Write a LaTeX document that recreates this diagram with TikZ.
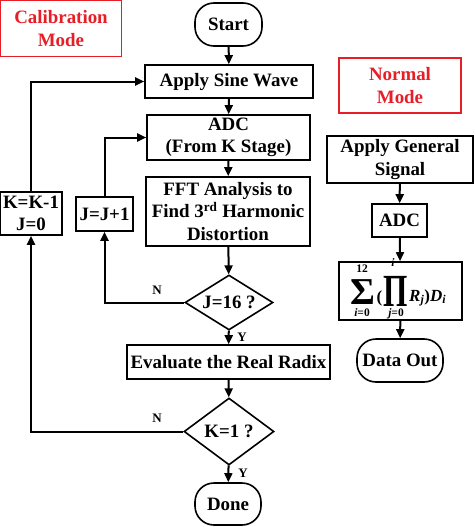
\documentclass[tikz,border=0pt]{standalone}
\usepackage{graphicx}
\usepackage{fontspec}
\setmainfont{Liberation Serif}
\usetikzlibrary{shapes.geometric,arrows.meta}
\definecolor{modered}{RGB}{232,30,38}
\begin{document}
\begin{tikzpicture}[x=1pt,y=-1pt,
  txt/.style={font=\fontsize{18.9}{22.5}\selectfont\bfseries, align=center, inner sep=0pt},
  box/.style={txt, draw, line width=1.6pt, rectangle},
  term/.style={box, rounded corners=19pt},
  dec/.style={txt, draw, line width=1.6pt, diamond, aspect=1.6},
  modebox/.style={txt, draw=modered, text=modered, line width=1.2pt},
  conn/.style={line width=2pt, -{Triangle[length=9pt,width=8pt]}},
  lbl/.style={font=\fontsize{13}{15}\selectfont\bfseries, inner sep=0pt},
  limtxt/.style={font=\fontsize{11.5}{12}\selectfont\bfseries, inner sep=0pt},
  mtxt/.style={font=\fontsize{17}{20}\selectfont\bfseries, inner sep=0pt}]
\useasboundingbox (0,0) rectangle (474,527);
% Calibration side
\node[modebox, minimum width=121pt, minimum height=56pt] (calib) at (61,28.5) {Calibration\\Mode};
\node[term, minimum width=67pt, minimum height=43pt] (start) at (228.5,24.5) {Start};
\node[box, minimum width=168pt, minimum height=33pt] (sine) at (229,81.5) {Apply Sine Wave};
\node[box, minimum width=163pt, minimum height=45pt] (adc1) at (228.5,137.5) {ADC\\(From K Stage)};
\node[box, minimum width=164pt, minimum height=69pt] (fft) at (228,211.5) {FFT Analysis to\\Find 3\textsuperscript{rd} Harmonic\\Distortion};
\node[dec, minimum width=88pt, minimum height=55pt] (j16) at (229,302.5) {J=16 ?};
\node[box, minimum width=203pt, minimum height=34pt] (eval) at (228.5,362) {Evaluate the Real Radix};
\node[dec, minimum width=90pt, minimum height=67pt] (k1) at (229,431.5) {K=1 ?};
\node[term, minimum width=66pt, minimum height=42pt] (done) at (228,504) {Done};
\node[box, minimum width=62pt, minimum height=43pt] (kbox) at (31,213.5) {K=K-1\\J=0};
\node[box, minimum width=57pt, minimum height=34pt] (jbox) at (104.5,214) {J=J+1};
% Normal side
\node[modebox, minimum width=122pt, minimum height=55pt] (normal) at (400,85.5) {Normal\\Mode};
\node[box, minimum width=146pt, minimum height=47pt] (gen) at (400,159.5) {Apply General\\Signal};
\node[box, minimum width=55pt, minimum height=33pt] (adc2) at (399.5,220.5) {ADC};
\node[box, minimum width=123pt, minimum height=58pt] (radix) at (400.5,291) {};
\node[font=\fontsize{38}{38}\selectfont\bfseries, inner sep=0pt, anchor=base] (sig) at (363,304) {Σ};
\node[limtxt] (sigtop) at (362,269) {12};
\node[limtxt] (sigbot) at (362,313) {\itshape i\upshape=0};
\node[mtxt, anchor=base west] (lpar) at (376.5,302) {(};
\node[font=\fontsize{46}{46}\selectfont\bfseries, inner sep=0pt, anchor=base] (prd) at (395.5,306) {\scalebox{0.68}[1]{Π}};
\node[limtxt] (prdtop) at (393,263) {\itshape i};
\node[limtxt] (prdbot) at (396,313.5) {\itshape j\upshape=0};
\node[mtxt, anchor=base west] (rest) at (409,301) {\itshape R\textsubscript{j}\upshape)\itshape D\textsubscript{i}};
\node[term, minimum width=86pt, minimum height=43pt] (dout) at (400,360.5) {Data Out};
% connectors
\draw[conn] (start) -- (sine);
\draw[conn] (sine) -- (adc1);
\draw[conn] (adc1) -- (fft);
\draw[conn] (fft) -- (j16);
\draw[conn] (j16) -- (eval);
\draw[conn] (eval) -- (k1);
\draw[conn] (k1) -- (done);
\draw[conn] (j16.west) -| (jbox.south);
\draw[conn] (jbox.north) |- (adc1.west);
\draw[conn] (k1.west) -| (kbox.south);
\draw[conn] (kbox.north) |- (sine.west);
\draw[conn] (gen) -- (adc2);
\draw[conn] (adc2) -- (radix);
\draw[conn] (radix) -- (dout);
% labels
\node[lbl] (n1) at (157,290) {N};
\node[lbl] (n2) at (157,418) {N};
\node[lbl] (y1) at (242,337) {Y};
\node[lbl] (y2) at (243,473) {Y};
\end{tikzpicture}
\end{document}
